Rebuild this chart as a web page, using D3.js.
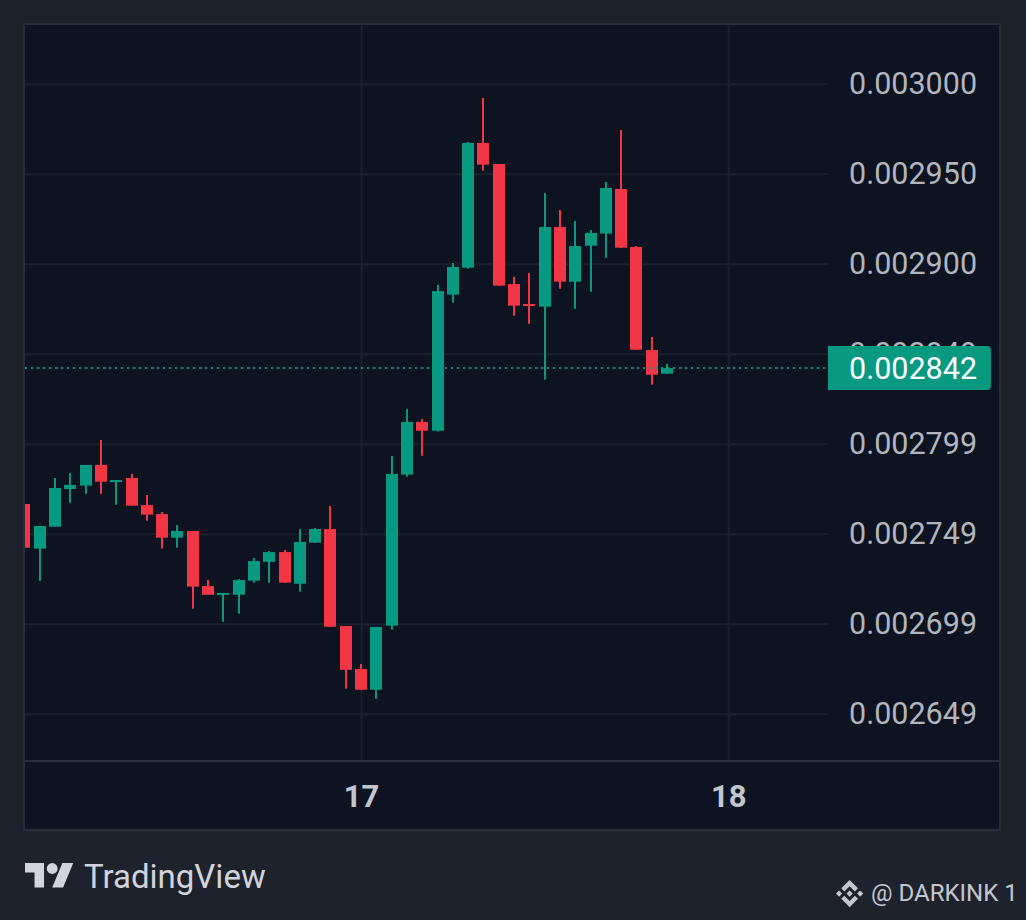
<!DOCTYPE html>
<html>
<head>
<meta charset="utf-8">
<script src="https://cdn.jsdelivr.net/npm/d3@7"></script>
<style>
  html, body { margin: 0; padding: 0; background: #1e222d; }
  svg { display: block; }
</style>
</head>
<body>
<svg id="chart" width="1026" height="920"></svg>
<script>
// ---------- DATA ----------
const times = [
  "2024-05-16T02:00Z","2024-05-16T03:00Z","2024-05-16T04:00Z","2024-05-16T05:00Z","2024-05-16T06:00Z",
  "2024-05-16T07:00Z","2024-05-16T08:00Z","2024-05-16T09:00Z","2024-05-16T10:00Z","2024-05-16T11:00Z",
  "2024-05-16T12:00Z","2024-05-16T13:00Z","2024-05-16T14:00Z","2024-05-16T15:00Z","2024-05-16T16:00Z",
  "2024-05-16T17:00Z","2024-05-16T18:00Z","2024-05-16T19:00Z","2024-05-16T20:00Z","2024-05-16T21:00Z",
  "2024-05-16T22:00Z","2024-05-16T23:00Z","2024-05-17T00:00Z","2024-05-17T01:00Z","2024-05-17T02:00Z",
  "2024-05-17T03:00Z","2024-05-17T04:00Z","2024-05-17T05:00Z","2024-05-17T06:00Z","2024-05-17T07:00Z",
  "2024-05-17T08:00Z","2024-05-17T09:00Z","2024-05-17T10:00Z","2024-05-17T11:00Z","2024-05-17T12:00Z",
  "2024-05-17T13:00Z","2024-05-17T14:00Z","2024-05-17T15:00Z","2024-05-17T16:00Z","2024-05-17T17:00Z",
  "2024-05-17T18:00Z","2024-05-17T19:00Z","2024-05-17T20:00Z"
];
const opens = [
  0.0027665,0.0027417,0.0027539,0.0027748,0.0027767,0.0027882,0.0027787,0.0027809,0.0027659,0.0027609,
  0.0027478,0.0027515,0.0027209,0.0027161,0.0027161,0.0027239,0.0027344,0.0027398,0.0027222,0.0027450,
  0.0027526,0.0026987,0.0026748,0.0026633,0.0026989,0.0027828,0.0028121,0.0028072,0.0028828,0.0028978,
  0.0029671,0.0029554,0.0028887,0.0028776,0.0028761,0.0029204,0.0028900,0.0029100,0.0029167,0.0029415,
  0.0029093,0.0028521,0.0028389
];
const highs = [
  0.0027832,0.0027543,0.0027809,0.0027837,0.0027882,0.0028021,0.0027798,0.0027832,0.0027715,0.0027621,
  0.0027548,0.0027515,0.0027243,0.0027171,0.0027248,0.0027365,0.0027404,0.0027409,0.0027526,0.0027532,
  0.0027654,0.0026987,0.0026776,0.0026982,0.0027932,0.0028193,0.0028137,0.0028882,0.0029004,0.0029676,
  0.0029921,0.0029554,0.0028926,0.0028948,0.0029393,0.0029298,0.0029237,0.0029187,0.0029454,0.0029743,
  0.0029098,0.0028593,0.0028443
];
const lows = [
  0.0027406,0.0027237,0.0027539,0.0027672,0.0027722,0.0027722,0.0027661,0.0027656,0.0027572,0.0027417,
  0.0027422,0.0027083,0.0027161,0.0027011,0.0027056,0.0027228,0.0027228,0.0027228,0.0027178,0.0027450,
  0.0026983,0.0026639,0.0026633,0.0026583,0.0026967,0.0027817,0.0027933,0.0028067,0.0028783,0.0028972,
  0.0029517,0.0028878,0.0028711,0.0028667,0.0028356,0.0028861,0.0028750,0.0028844,0.0029033,0.0029089,
  0.0028522,0.0028328,0.0028389
];
const closes = [
  0.0027422,0.0027543,0.0027754,0.0027771,0.0027882,0.0027789,0.0027798,0.0027656,0.0027606,0.0027478,
  0.0027515,0.0027206,0.0027161,0.0027171,0.0027243,0.0027348,0.0027398,0.0027228,0.0027454,0.0027526,
  0.0026983,0.0026744,0.0026633,0.0026982,0.0027832,0.0028121,0.0028072,0.0028848,0.0028982,0.0029671,
  0.0029550,0.0028878,0.0028767,0.0028769,0.0029204,0.0028900,0.0029098,0.0029171,0.0029421,0.0029089,
  0.0028522,0.0028383,0.0028420
];
const priceTicks = [0.003000, 0.002950, 0.002900, 0.002850, 0.002800, 0.002750, 0.002700, 0.002650];
const priceTickLabels = ["0.003000","0.002950","0.002900","0.002849","0.002799","0.002749","0.002699","0.002649"];
const timeTicks = ["2024-05-17T00:00Z","2024-05-18T00:00Z"];
const timeTickLabels = ["17","18"];
const lastPrice = 0.002842;
const lastPriceLabel = "0.002842";
const brandText = "TradingView";
const watermarkText = "@ DARKINK 1";

// ---------- LAYOUT ----------
const UP = "#089981", DOWN = "#f23645";
const GRID = "#1b202c";
const panel = { x: 25, y: 25, w: 975, h: 805 };
const plot = { left: 25, right: 828, top: 25, bottom: 760 };

const data = times.map((t, i) => ({
  t: new Date(t), o: opens[i], h: highs[i], l: lows[i], c: closes[i]
}));

const svg = d3.select("#chart");

// panel
svg.append("rect")
  .attr("x", panel.x - 1).attr("y", panel.y - 1)
  .attr("width", panel.w + 1).attr("height", panel.h + 1)
  .attr("fill", "#0d1320").attr("stroke", "#2a2e39").attr("stroke-width", 2);

const x = d3.scaleTime()
  .domain([new Date(times[0]), new Date(times[times.length - 1])])
  .range([24.4, 667]);
const y = d3.scaleLinear()
  .domain([0.00265, 0.003])
  .range([713.7, 83.7]);

const defs = svg.append("defs");
defs.append("clipPath").attr("id", "plotclip")
  .append("rect")
  .attr("x", plot.left).attr("y", plot.top)
  .attr("width", plot.right - plot.left).attr("height", plot.bottom - plot.top);

// horizontal grid
svg.append("g")
  .attr("transform", `translate(${plot.left},0)`)
  .call(d3.axisRight(y).tickValues(priceTicks).tickSize(plot.right - plot.left).tickFormat(""))
  .call(g => g.select(".domain").remove())
  .call(g => g.selectAll("line").attr("stroke", GRID).attr("stroke-width", 2));

// vertical grid
svg.append("g")
  .attr("transform", `translate(0,${plot.top})`)
  .call(d3.axisBottom(x).tickValues(timeTicks.map(d => new Date(d))).tickSize(plot.bottom - plot.top).tickFormat(""))
  .call(g => g.select(".domain").remove())
  .call(g => g.selectAll("line").attr("stroke", GRID).attr("stroke-width", 2));

// time axis separator
svg.append("line")
  .attr("x1", panel.x).attr("x2", panel.x + panel.w)
  .attr("y1", plot.bottom + 1).attr("y2", plot.bottom + 1)
  .attr("stroke", "#2a2e39").attr("stroke-width", 2);

// candles
const candles = svg.append("g").attr("clip-path", "url(#plotclip)");
const bw = 12;
const cg = candles.selectAll("g.c").data(data).enter().append("g").attr("class", "c");
cg.append("rect")
  .attr("x", d => Math.round(x(d.t)) - 1)
  .attr("y", d => y(d.h))
  .attr("width", 2)
  .attr("height", d => Math.max(1, y(d.l) - y(d.h)))
  .attr("fill", d => d.c >= d.o ? UP : DOWN);
cg.append("rect")
  .attr("x", d => Math.round(x(d.t)) - bw / 2)
  .attr("y", d => Math.min(y(d.o), y(d.c)))
  .attr("width", bw)
  .attr("height", d => Math.max(2, Math.abs(y(d.o) - y(d.c))))
  .attr("fill", d => d.c >= d.o ? UP : DOWN);

// last price dotted line
svg.append("line")
  .attr("x1", plot.left).attr("x2", plot.right)
  .attr("y1", y(lastPrice)).attr("y2", y(lastPrice))
  .attr("stroke", UP).attr("stroke-width", 2)
  .attr("stroke-dasharray", "2,4");

// price axis labels
svg.append("g")
  .attr("transform", `translate(${plot.right},0)`)
  .call(d3.axisRight(y).tickValues(priceTicks).tickSize(0).tickPadding(21)
        .tickFormat((d, i) => priceTickLabels[i]))
  .call(g => g.select(".domain").remove())
  .call(g => g.selectAll("text")
    .attr("fill", "#b2b5be")
    .attr("font-family", "Roboto, sans-serif")
    .attr("font-size", 30.5));

// time axis labels
svg.append("g")
  .attr("transform", `translate(0,${plot.bottom})`)
  .call(d3.axisBottom(x).tickValues(timeTicks.map(d => new Date(d))).tickSize(0).tickPadding(0)
        .tickFormat((d, i) => timeTickLabels[i]))
  .call(g => g.select(".domain").remove())
  .call(g => g.selectAll("text")
    .attr("y", 36).attr("dy", "0.36em")
    .attr("fill", "#c3c6ce")
    .attr("font-family", "Roboto, sans-serif")
    .attr("font-weight", "bold")
    .attr("font-size", 31));

// last price tag
const ty = y(lastPrice);
const tag = svg.append("g");
tag.append("path")
  .attr("d", `M${plot.right},${ty - 22} H${991 - 4} Q991,${ty - 22} 991,${ty - 18} V${ty + 18} Q991,${ty + 22} ${991 - 4},${ty + 22} H${plot.right} Z`)
  .attr("fill", UP);
tag.append("text")
  .attr("x", plot.right + 21).attr("y", ty).attr("dy", "0.35em")
  .attr("fill", "#ffffff")
  .attr("font-family", "Roboto, sans-serif")
  .attr("font-size", 30.5)
  .text(lastPriceLabel);

// TradingView logo
const logo = svg.append("g").attr("transform", "translate(25,857.6) scale(1.36)").attr("fill", "#d1d4dc");
logo.append("path").attr("d", "M14 22H7V11H0V4h14v18zM28 22h-8l7.5-18h8L28 22z");
logo.append("circle").attr("cx", 20).attr("cy", 8).attr("r", 4);
svg.append("text")
  .attr("x", 84).attr("y", 888)
  .attr("fill", "#d1d4dc")
  .attr("font-family", "Roboto, sans-serif")
  .attr("font-size", 33)
  .text(brandText);

// watermark
const bn = svg.append("g").attr("transform", "translate(836,880) scale(0.215)").attr("fill", "#c3c6ce");
bn.append("path").attr("d", "M38.73 53.2l24.59-24.58 24.6 24.6 14.3-14.31L63.32 0 24.43 38.9l14.3 14.3zM0 63.31l14.3-14.31 14.31 14.31-14.31 14.3zM38.73 73.41l24.59 24.59 24.6-24.6 14.31 14.29-38.9 38.91-38.9-38.88-.02-.02zM98 63.31l14.3-14.31 14.31 14.3-14.31 14.32zM77.83 63.3L63.32 48.78 52.59 59.51l-1.24 1.23-2.54 2.54-.02.02.02.03 14.51 14.5 14.51-14.52.01-.01z");
svg.append("text")
  .attr("x", 871).attr("y", 901)
  .attr("fill", "#c3c6ce")
  .attr("font-family", "Roboto, sans-serif")
  .attr("font-size", 24)
  .text(watermarkText);
</script>
</body>
</html>
